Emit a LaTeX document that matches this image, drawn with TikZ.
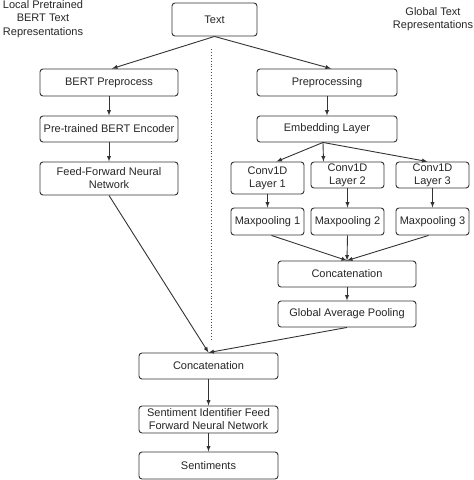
\documentclass[tikz,border=0pt]{standalone}
\usepackage{fontspec}
\setmainfont{Liberation Sans}
\usepackage{tikz}
\usetikzlibrary{arrows,calc}

\begin{document}
\begin{tikzpicture}[x=1pt,y=-1pt,
		box/.style={draw=black!80,line width=0.9pt,rounded corners=3pt,fill=white,align=center,inner sep=1pt,text=black!85,font=\fontsize{11}{13}\selectfont},
		arr/.style={-latex,line width=0.9pt,black!80},
		lbl/.style={align=center,text=black!85,font=\fontsize{11}{13.5}\selectfont}]
		\useasboundingbox (0,0) rectangle (474,480);
		% labels
		\node[lbl] (loclbl) at (43,19) {Local Pretrained\\BERT Text\\Representations};
		\node[lbl] (glblbl) at (433,19) {Global Text\\Representations};
		% input
		\node[box,minimum width=85,minimum height=33] (text) at (214.5,19.5) {Text};
		% left branch
		\node[box,minimum width=138,minimum height=27] (bertpre) at (109,82.5) {BERT Preprocess};
		\node[box,minimum width=138,minimum height=26] (bertenc) at (109,129) {Pre-trained BERT Encoder};
		\node[box,minimum width=138,minimum height=33] (ffnn) at (109,178.5) {Feed-Forward Neural\\Network};
		% right branch
		\node[box,minimum width=140,minimum height=27] (prep) at (327,82.5) {Preprocessing};
		\node[box,minimum width=140,minimum height=26] (embed) at (327,129) {Embedding Layer};
		\node[box,minimum width=73,minimum height=32] (conv1) at (267.5,178) {Conv1D\\Layer 1};
		\node[box,minimum width=73,minimum height=26] (conv2) at (347.5,175) {Conv1D\\Layer 2};
		\node[box,minimum width=73,minimum height=26] (conv3) at (432.5,175) {Conv1D\\Layer 3};
		\node[box,minimum width=73,minimum height=27] (pool1) at (267.5,221.5) {Maxpooling 1};
		\node[box,minimum width=73,minimum height=27] (pool2) at (347.5,221.5) {Maxpooling 2};
		\node[box,minimum width=73,minimum height=27] (pool3) at (432.5,221.5) {Maxpooling 3};
		\node[box,minimum width=138,minimum height=26] (concr) at (347,274) {Concatenation};
		\node[box,minimum width=138,minimum height=26] (gap) at (347,314) {Global Average Pooling};
		% merge
		\node[box,minimum width=139,minimum height=26] (concl) at (208.5,366) {Concatenation};
		\node[box,minimum width=139,minimum height=27] (sentff) at (208.5,419.5) {Sentiment Identifier Feed\\Forward Neural Network};
		\node[box,minimum width=139,minimum height=27] (sent) at (208.5,465.5) {Sentiments};
		% divider
		\coordinate (divtop) at (211,49);
		\coordinate (divbot) at (211,340);
		\draw[dotted,line width=0.9pt,black!70] (divtop) -- (divbot);
		% arrows
		\draw[arr] (text.south) -- ([xshift=3pt]bertpre.north);
		\draw[arr] (text.south) -- ([xshift=4pt]prep.north);
		\draw[arr] (bertpre) -- (bertenc);
		\draw[arr] (bertenc) -- (ffnn);
		\draw[arr] (prep) -- (embed);
		\draw[arr] ([xshift=-4pt]embed.south) -- ([xshift=9pt]conv1.north);
		\draw[arr] ([xshift=-4pt]embed.south) -- ([xshift=-24pt]conv2.north);
		\draw[arr] ([xshift=-4pt]embed.south) -- ([xshift=-5pt]conv3.north);
		\draw[arr] (conv1) -- (pool1);
		\draw[arr] (conv2) -- (pool2);
		\draw[arr] (conv3) -- (pool3);
		\draw[arr] ([xshift=4pt]pool1.south) -- (concr.north);
		\draw[arr] (pool2.south) -- (concr.north);
		\draw[arr] ([xshift=-4pt]pool3.south) -- (concr.north);
		\draw[arr] (concr) -- (gap);
		\draw[arr] (ffnn.south) -- (concl.north);
		\draw[arr] (gap.south) -- (concl.north);
		\draw[arr] (concl) -- (sentff);
		\draw[arr] (sentff) -- (sent);
	\end{tikzpicture}
\end{document}
